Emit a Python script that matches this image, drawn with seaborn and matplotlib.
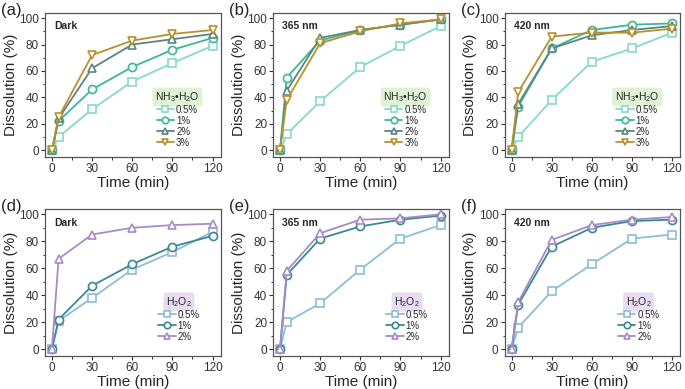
import pandas as pd
import seaborn as sns
import matplotlib.pyplot as plt
from matplotlib.ticker import MultipleLocator

sns.set_style("ticks")
plt.rcParams['font.family'] = ['Liberation Sans', 'DejaVu Sans']
plt.rcParams['mathtext.fontset'] = 'custom'
plt.rcParams['mathtext.rm'] = 'Liberation Sans'

time_min = [0, 5, 30, 60, 90, 120]

nh3_levels = ['0.5%', '1%', '2%', '3%']
h2o2_levels = ['0.5%', '1%', '2%']

# NH3·H2O panels
nh3_dark = [[0, 10, 31, 52, 66, 79],
            [0, 22, 46, 63, 76, 85],
            [0, 24, 62, 80, 84, 88],
            [0, 25, 72, 83, 88, 91]]
nh3_365 = [[0, 12, 37, 63, 79, 94],
           [0, 55, 83, 91, 95, 99],
           [0, 45, 85, 91, 95, 99],
           [0, 38, 81, 90, 96, 99]]
nh3_420 = [[0, 10, 38, 67, 77, 89],
           [0, 33, 77, 91, 95, 96],
           [0, 35, 77, 87, 91, 94],
           [0, 44, 86, 89, 89, 92]]

# H2O2 panels
h2o2_dark = [[0, 21, 38, 59, 72, 87],
             [0, 22, 47, 63, 76, 84],
             [0, 67, 85, 90, 92, 93]]
h2o2_365 = [[0, 20, 34, 59, 82, 92],
            [0, 55, 82, 91, 96, 99],
            [0, 58, 86, 96, 97, 100]]
h2o2_420 = [[0, 16, 43, 63, 82, 85],
            [0, 33, 76, 90, 95, 96],
            [0, 35, 81, 92, 96, 98]]

conditions = ['Dark', '365 nm', '420 nm']
panel_tags = ['(a)', '(b)', '(c)', '(d)', '(e)', '(f)']

nh3_colors = ['#86d9c8', '#3bb79a', '#5a8580', '#b8912c']
nh3_markers = ['s', 'o', '^', 'v']
h2o2_colors = ['#8dbcdc', '#3b8895', '#a68bc6']
h2o2_markers = ['s', 'o', '^']


def long_df(series, levels):
    rows = []
    for lvl, vals in zip(levels, series):
        for t, v in zip(time_min, vals):
            rows.append({'Time': t, 'Dissolution': v, 'Conc': lvl})
    return pd.DataFrame(rows)


fig = plt.figure(figsize=(6.85, 3.89), dpi=100)
lefts = [0.066, 0.399, 0.737]
width = 0.256
row_specs = [(0.597, 0.370), (0.085, 0.378)]
legend_y = [0.015, 0.05]

panels = [
    (nh3_dark, nh3_levels, nh3_colors, nh3_markers, 'NH$_3$•H$_2$O', '#dff2d6'),
    (nh3_365, nh3_levels, nh3_colors, nh3_markers, 'NH$_3$•H$_2$O', '#dff2d6'),
    (nh3_420, nh3_levels, nh3_colors, nh3_markers, 'NH$_3$•H$_2$O', '#dff2d6'),
    (h2o2_dark, h2o2_levels, h2o2_colors, h2o2_markers, 'H$_2$O$_2$', '#e8dcf2'),
    (h2o2_365, h2o2_levels, h2o2_colors, h2o2_markers, 'H$_2$O$_2$', '#e8dcf2'),
    (h2o2_420, h2o2_levels, h2o2_colors, h2o2_markers, 'H$_2$O$_2$', '#e8dcf2'),
]

for i, (series, levels, colors, markers, title, glow) in enumerate(panels):
    r, c = divmod(i, 3)
    bottom, height = row_specs[r]
    ax = fig.add_axes([lefts[c], bottom, width, height])
    df = long_df(series, levels)
    sns.lineplot(data=df, x='Time', y='Dissolution', hue='Conc', style='Conc',
                 palette=dict(zip(levels, colors)), markers=dict(zip(levels, markers)),
                 dashes=False, legend=False, ax=ax, lw=1.3, markersize=5.8,
                 markerfacecolor='white', markeredgewidth=1.2)
    # seaborn paints marker edges white; give them the line colour instead
    for line in ax.lines:
        line.set_markeredgecolor(line.get_color())
    ax.set_xlim(-5, 126)
    ax.set_ylim(-5, 104)
    ax.set_xticks([0, 30, 60, 90, 120])
    ax.set_yticks([0, 20, 40, 60, 80, 100])
    ax.xaxis.set_minor_locator(MultipleLocator(15))
    ax.yaxis.set_minor_locator(MultipleLocator(10))
    ax.tick_params(which='major', length=3, width=0.8, labelsize=8.5, colors='#333333', pad=1.5)
    ax.tick_params(which='minor', length=1.8, width=0.7, colors='#333333')
    for s in ax.spines.values():
        s.set_color('#555555')
        s.set_linewidth(0.9)
    ax.set_xlabel('Time (min)', fontsize=11, labelpad=0.5)
    ax.set_ylabel('Dissolution (%)', fontsize=11, labelpad=1)
    ax.text(0.05, 0.94, conditions[c], transform=ax.transAxes, fontsize=7.5,
            fontweight='bold', va='top', ha='left')
    fig.text(lefts[c] - 0.064, bottom + height + 0.006, panel_tags[i], fontsize=12,
             va='center', ha='left')
    leg = ax.legend(handles=ax.lines[:len(levels)], labels=levels, title=title,
                    loc='lower right', bbox_to_anchor=(0.92, legend_y[r]), frameon=False,
                    fontsize=7, title_fontsize=7.5, handlelength=1.8, handletextpad=0.2,
                    labelspacing=0.1, borderpad=0.2, markerscale=0.8)
    leg.get_title().set_bbox(dict(facecolor=glow, edgecolor='none', boxstyle='round,pad=0.25'))

fig.savefig('out.png', dpi=100)
